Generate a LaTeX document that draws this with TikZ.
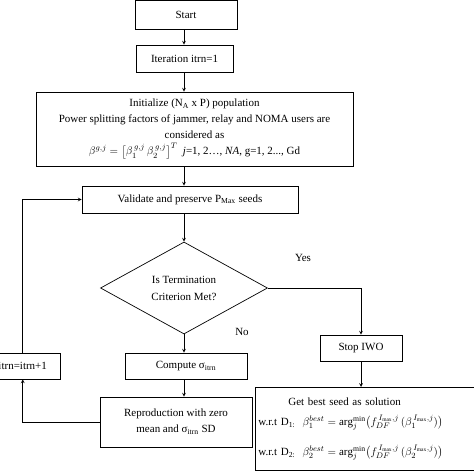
\documentclass[tikz,border=0pt]{standalone}
\usepackage{amsmath}
\usepackage{fontspec}
\setmainfont{Liberation Serif}
\usetikzlibrary{shapes.geometric}

\begin{document}
\begin{tikzpicture}[x=1pt, y=-1pt, >=stealth, line width=0.7pt,
    box/.style={draw, rectangle, fill=white, inner sep=3pt, align=center, font=\fontsize{11}{16}\selectfont},
    decision/.style={draw, diamond, inner sep=0pt, align=center, font=\fontsize{11}{17}\selectfont},
    tag/.style={font=\fontsize{11}{13}\selectfont}]

    \useasboundingbox (0,0) rectangle (474,474);

    \node[box, minimum width=102pt, minimum height=29pt] (start) at (186,15) {Start};
    \node[box, minimum width=97pt, minimum height=27pt] (iter) at (184.5,58.5) {Iteration itrn=1};
    \node[box, minimum width=317pt, minimum height=74pt] (init) at (194.5,129)
        {Initialize (N\textsubscript{A} x P) population\\
         Power splitting factors of jammer, relay and NOMA users are\\
         considered as\\
         $\beta^{g,j}=\bigl[\beta_1^{\,g,j}\,\beta_2^{\,g,j}\bigr]^T$\ \ \textit{j}=1, 2…, \textit{NA}, g=1, 2..., Gd};
    \node[box, minimum width=216pt, minimum height=27pt] (valid) at (190,199.5) {Validate and preserve P\textsubscript{Max} seeds};
    \node[decision, minimum width=167pt, minimum height=92pt] (crit) at (184,288) {Is Termination\\Criterion Met?};
    \node[box, minimum width=122pt, minimum height=26pt] (sigma) at (186,366) {Compute σ\textsubscript{itrn}};
    \node[box, minimum width=152pt, minimum height=50pt] (repro) at (176,422) {Reproduction with zero\\mean and σ\textsubscript{itrn} SD};
    \node[box, minimum width=76pt, minimum height=26pt] (incr) at (22.7,366) {itrn=itrn+1};
    \node[box, minimum width=82pt, minimum height=26pt] (stop) at (361,348) {Stop IWO};
    \node[box, anchor=north west, minimum height=83pt, text width=217pt, align=left] (best) at (255,387)
        {\hspace*{30pt}Get best seed as solution\\[4pt]
         w.r.t D\textsubscript{1:}\ \ $\beta_1^{best}=\arg_j^{\min}\bigl(f_{DF}^{\,I_{\max},j}\,(\beta_1^{\,I_{\max},j})\bigr)$\\[14pt]
         w.r.t D\textsubscript{2:}\ \ $\beta_2^{best}=\arg_j^{\min}\bigl(f_{DF}^{\,I_{\max},j}\,(\beta_2^{\,I_{\max},j})\bigr)$};

    \node[tag] (yes) at (303,258) {Yes};
    \node[tag] (no) at (242,332) {No};

    \coordinate (col) at (184,0);

    \draw[->] (start.south -| col) -- (iter.north -| col);
    \draw[->] (iter.south -| col) -- (init.north -| col);
    \draw[->] (init.south -| col) -- (valid.north -| col);
    \draw[->] (valid.south -| col) -- (crit.north);
    \draw[->] (crit.south) -- (sigma.north -| crit.south);
    \draw[->] (sigma.south -| col) -- (repro.north -| col);
    \draw[->] (crit.east) -| (stop.north);
    \draw[->] (stop.south) -- (best.north -| stop.south);
    \draw[->] (repro.west) -| (incr.south);
    \draw[->] (incr.north) |- (valid.west);
\end{tikzpicture}
\end{document}
